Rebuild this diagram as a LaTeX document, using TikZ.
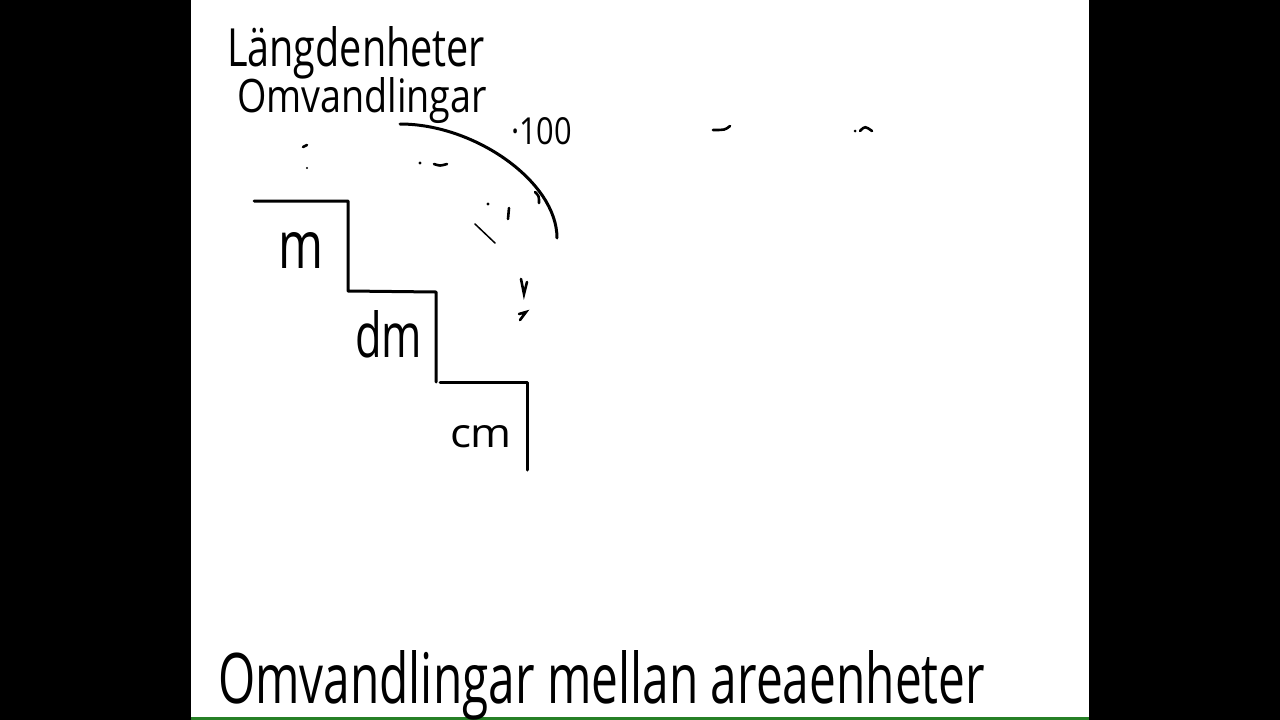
\documentclass[tikz,border=0pt]{standalone}
\usepackage{fontspec}
\setmainfont{Open Sans}
\definecolor{barGreen}{RGB}{38,128,38}
\tikzset{
  ink/.style={draw=black, line width=3pt, line cap=round, line join=round},
  speck/.style={draw=black, line width=2.6pt, line cap=round},
  handtext/.style={inner sep=0pt, outer sep=0pt, anchor=base west, text=black}
}
\begin{document}
\begin{tikzpicture}[x=1pt, y=-1pt]
\useasboundingbox (0,0) rectangle (1280,720);
% page
\fill[black] (0,0) rectangle (1280,720);
\fill[white] (191,0) rectangle (1089,717);
\fill[barGreen] (191,717) rectangle (1089,720);

% titles
\node[handtext] (title1) at (227,66) {\resizebox{258pt}{40pt}{Längdenheter}};
\node[handtext] (title2) at (237,112) {\resizebox{250pt}{35pt}{Omvandlingar}};

% staircase
\draw[ink] (254,201) -- (348,201) -- (348,291) -- (436,292) -- (436,382);
\draw[ink] (440,382) -- (527,382) -- (527,470);

% step labels
\node[handtext] (lm) at (278,268) {\resizebox{45pt}{36pt}{m}};
\node[handtext] (ldm) at (355,357) {\resizebox{67pt}{47pt}{dm}};
\node[handtext] (lcm) at (450,447) {\resizebox{62pt}{22pt}{cm}};

% conversion arc
\draw[ink] (400,124) .. controls (475,124) and (557,182) .. (557,238);
\node[handtext] (factor) at (511,144) {\resizebox{61pt}{27pt}{·100}};

% faint leftover marks
\draw[speck] (303,147) -- (307,145);
\fill (307,168) circle (1.2pt);
\fill (420,163) circle (1.6pt);
\draw[speck] (434,164) .. controls (440,166) .. (447,164);
\fill (488,204) circle (1.6pt);
\draw[speck] (509,208) -- (508,219);
\draw[speck] (535,192) .. controls (539,196) .. (539,203);
\draw[line width=1.5pt, line cap=round] (475,224) -- (495,243);
\draw[speck] (521,279) -- (524,294) -- (527,282);
\draw[speck] (519,314) -- (526,312) -- (520,320);
\draw[speck] (713,130) .. controls (725,130) .. (730,126);
\fill (855,131) circle (1.5pt);
\draw[speck] (860,131) .. controls (865,126) .. (872,131);

% bottom heading
\node[handtext] (heading) at (218,703) {\resizebox{767pt}{53pt}{Omvandlingar mellan areaenheter}};
\end{tikzpicture}
\end{document}
